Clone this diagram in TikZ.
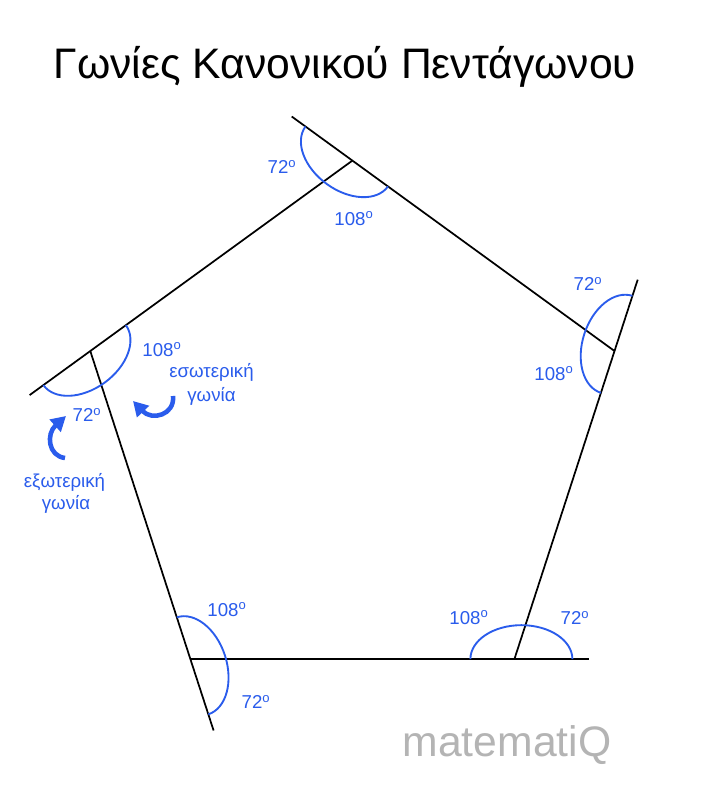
\documentclass[tikz,border=0pt]{standalone}
\usepackage{fontspec}
\setmainfont{Liberation Sans}
\usetikzlibrary{calc,arrows.meta}
\definecolor{ablue}{RGB}{42,92,236}
\definecolor{wmgray}{RGB}{180,180,180}
\newcommand{\dg}[1]{#1\textsuperscript{o}}
\begin{document}
\begin{tikzpicture}[x=0.75pt,y=0.75pt,
  side/.style={line width=1.3pt, black},
  angarc/.style={line width=1.4pt, ablue},
  lbl/.style={text=ablue, font=\fontsize{14}{17}\selectfont, inner sep=0pt},
  curvarrow/.style={line width=3.4pt, ablue, -{Triangle[length=11pt,width=12pt]}}]
\fill[white] (0,0) rectangle (715,811);
\useasboundingbox (0,0) rectangle (715,811);
% pentagon
\coordinate (O) at (352.4,374.8);
\coordinate (T) at ($(O)+(90:275.6)$);
\coordinate (L) at ($(O)+(162:275.6)$);
\coordinate (BL) at ($(O)+(234:275.6)$);
\coordinate (BR) at ($(O)+(306:275.6)$);
\coordinate (R) at ($(O)+(18:275.6)$);
\coordinate (Te) at ($(T)+(144:75)$);
\coordinate (Le) at ($(L)+(216:75)$);
\coordinate (BLe) at ($(BL)+(288:75)$);
\coordinate (BRe) at ($(BR)+(0:75)$);
\coordinate (Re) at ($(R)+(72:75)$);
\draw[side] (T) -- (Le);
\draw[side] (L) -- (BLe);
\draw[side] (BL) -- (BRe);
\draw[side] (BR) -- (Re);
\draw[side] (R) -- (Te);
% angle arcs
\foreach \v/\t in {T/144, L/216, BL/288, BR/0, R/72} {
  \draw[angarc, shift={($(\v)+(\t:7)$)}, rotate=\t] (51,0) arc[start angle=0, end angle=180, x radius=51, y radius=34];
}
% title
\node[anchor=base, font=\fontsize{32}{38}\selectfont, inner sep=0pt] (title) at (345,732) {Γωνίες Κανονικού Πεντάγωνου};
% labels
\node[lbl] (t72) at (282,644) {\dg{72}};
\node[lbl] (t108) at (354,592) {\dg{108}};
\node[lbl] (r72) at (588,527) {\dg{72}};
\node[lbl] (r108) at (554,437) {\dg{108}};
\node[lbl] (l108) at (162,461) {\dg{108}};
\node[lbl] (l72) at (87,396) {\dg{72}};
\node[lbl] (bl108) at (227,201) {\dg{108}};
\node[lbl] (bl72) at (256,109) {\dg{72}};
\node[lbl] (br108) at (469,193) {\dg{108}};
\node[lbl] (br72) at (575,193) {\dg{72}};
\node[lbl, anchor=base] (int1) at (211.5,433) {εσωτερική};
\node[lbl, anchor=base] (int2) at (211.5,409) {γωνία};
\node[lbl, anchor=base] (ext1) at (64.5,323) {εξωτερική};
\node[lbl, anchor=base] (ext2) at (66,301) {γωνία};
% arrows
\coordinate (a1s) at (173,415);
\coordinate (a1e) at (133,410);
\draw[curvarrow] (a1s) .. controls (175,396) and (152,390) .. (a1e);
\coordinate (a2s) at (65,353);
\coordinate (a2e) at (66,395);
\draw[curvarrow] (a2s) .. controls (48,355) and (46,377) .. (a2e);
% watermark
\node[anchor=base, text=wmgray, font=\fontsize{32}{38}\selectfont, inner sep=0pt] (wm) at (507,54) {matematiQ};
\end{tikzpicture}
\end{document}
